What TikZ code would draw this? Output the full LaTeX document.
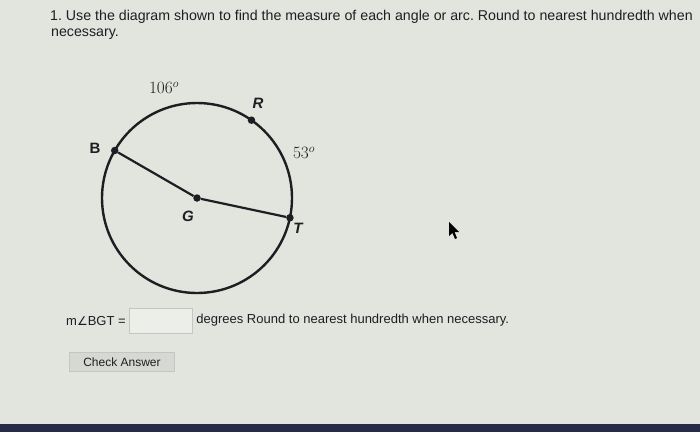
\documentclass[tikz,border=0pt]{standalone}
\usepackage{fontspec}
\setmainfont{Liberation Sans}
\newfontfamily\symfont{DejaVu Sans}
\usetikzlibrary{positioning}
\definecolor{pagegray}{RGB}{226,228,222}
\definecolor{barnavy}{RGB}{38,44,72}
\definecolor{inkgray}{RGB}{30,30,34}
\definecolor{boxline}{RGB}{196,198,194}
\definecolor{boxfill}{RGB}{236,238,233}
\definecolor{btnfill}{RGB}{214,216,212}
\frenchspacing
\begin{document}
\begin{tikzpicture}[x = 1pt, y = -1pt, text = inkgray,
  txt/.style = {font = \fontsize{13}{15}\selectfont, anchor = west,
  inner sep = 0pt},
  lbl/.style = {font = \fontsize{15}{17}\selectfont\itshape\bfseries,
  inner sep = 0pt},
  arcdeg/.style = {font = \fontsize{18}{20}\selectfont, inner sep = 0pt},
  dot/.style = {circle, fill = inkgray, inner sep = 0pt,
  minimum size = 7.5pt}]
  % page and bottom bar
  \fill[pagegray] (0, 0) rectangle (700, 432);
  \fill[barnavy] (0, 424) rectangle (700, 432);
  \useasboundingbox (0, 0) rectangle (700, 432);
  % question text
  \node[txt, font = \fontsize{14.2}{16}\selectfont] (title) at (50, 17)
  {1. Use the diagram shown to find the measure of each angle or arc.
  Round to nearest hundredth when};
  \node[txt, font = \fontsize{14.2}{16}\selectfont] (title2) at (51, 34)
  {necessary.};
  % draw the circle and its points
  \def\rad{95pt}
  \coordinate (G) at (197, 198);
  \draw[inkgray, line width = 2.4pt] (G) circle (\rad);
  \path (G) ++(150:\rad) node[dot] (B) {};
  \path (G) ++(55:\rad) node[dot] (R) {};
  \path (G) ++(-12:\rad) node[dot] (T) {};
  \node[dot] (Gd) at (G) {};
  % draw the radii GB and GT
  \draw[inkgray, line width = 2.2pt] (B) -- (Gd) -- (T);
  % point labels and arc measures
  \node[lbl] (Bl) at (95, 148) {\upshape B};
  \node[lbl] (Rl) at (258, 103) {R};
  \node[lbl] (Gl) at (188, 216) {G};
  \node[lbl] (Tl) at (298, 228) {T};
  \node[arcdeg] (a106) at (164, 88) {$106^o$};
  \node[arcdeg] (a53) at (304, 153) {$53^o$};
  % answer line
  \node[txt] (mBGT) at (66, 321) {m{\symfont\fontsize{12}{14}\selectfont
  ∠}BGT =};
  \node[draw = boxline, fill = boxfill, minimum width = 63pt,
  minimum height = 25pt] (ans) at (160.5, 320.5) {};
  \node[txt, right = 4pt of ans] (note) {degrees Round to nearest
  hundredth when necessary.};
  % check button
  \node[draw = boxline, fill = btnfill, minimum width = 105pt,
  minimum height = 19pt, font = \fontsize{12}{14}\selectfont,
  inner sep = 0pt] (check) at (122, 362) {Check Answer};
  % mouse pointer
  \fill[black] (449, 222) -- (449, 236) -- (452.5, 233) -- (455, 239)
  -- (457, 238) -- (454.5, 232) -- (459, 232) -- cycle;
\end{tikzpicture}
\end{document}
